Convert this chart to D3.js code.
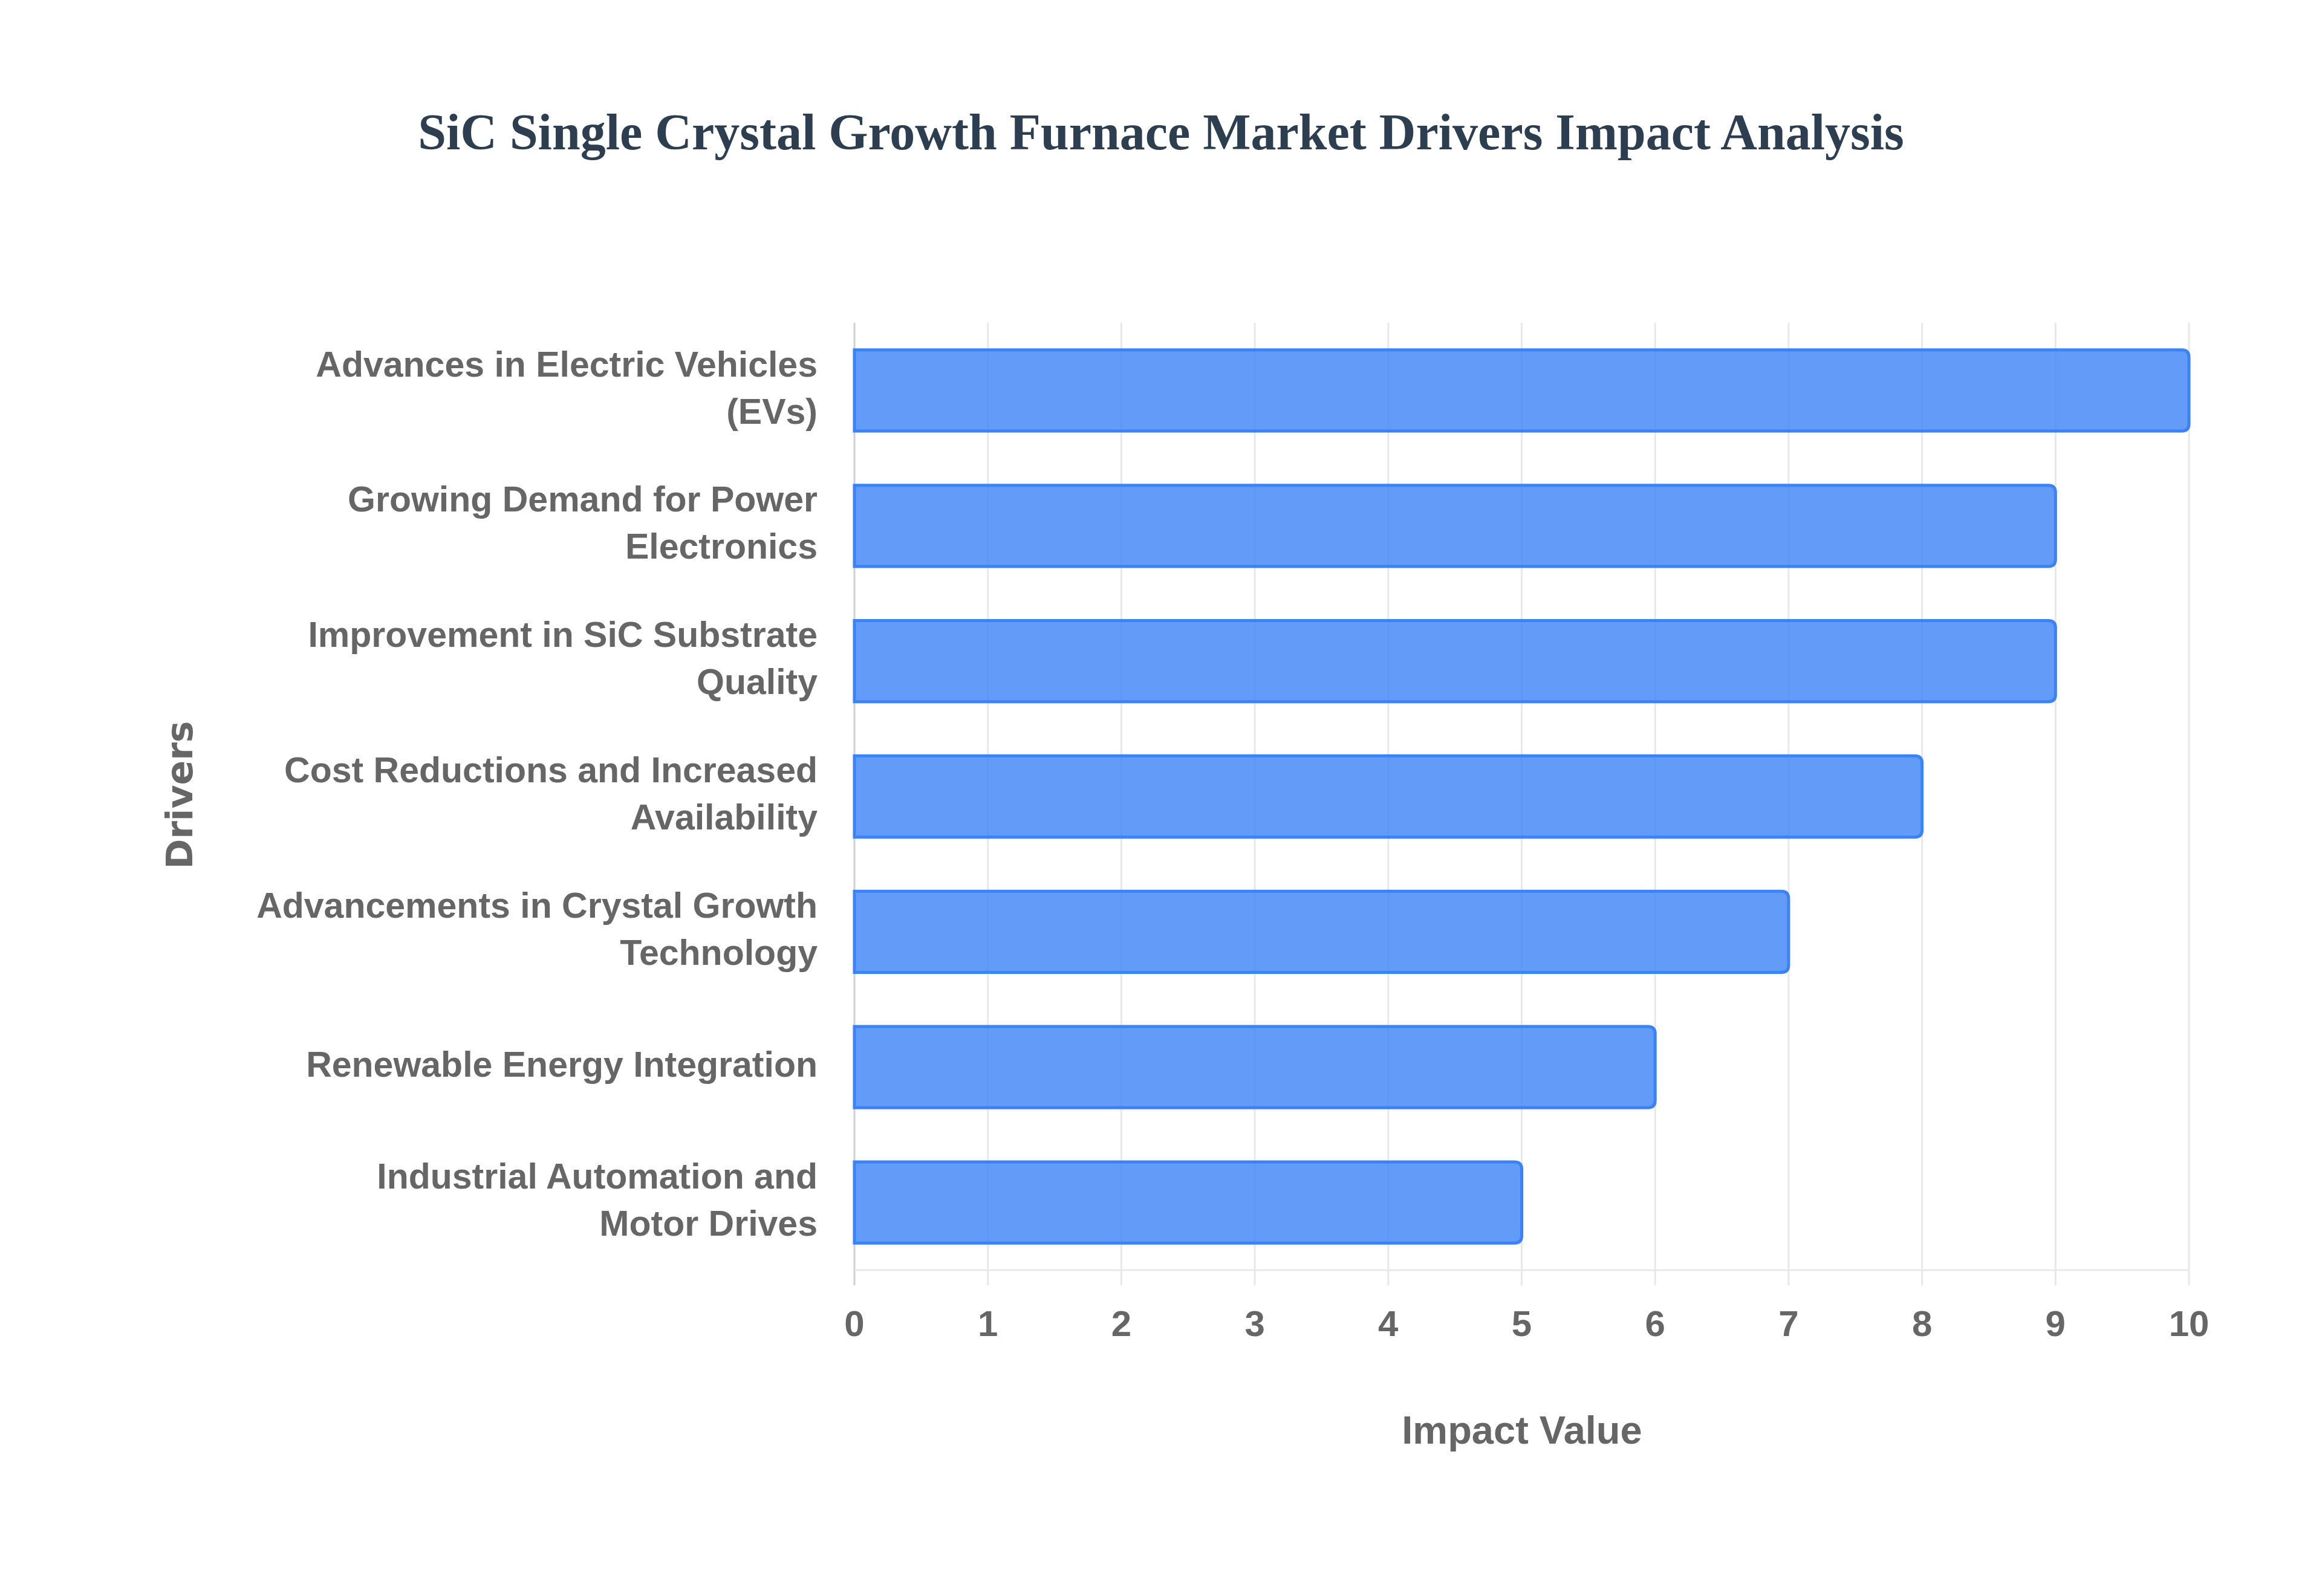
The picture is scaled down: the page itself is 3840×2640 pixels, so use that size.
<!DOCTYPE html>
<html><head><meta charset="utf-8">
<script src="https://cdn.jsdelivr.net/npm/d3@7"></script>
<style>body{margin:0;background:#fff}</style>
</head><body>
<svg id="c" width="3840" height="2640"></svg>
<script>
const categories = [
  ["Advances in Electric Vehicles","(EVs)"],
  ["Growing Demand for Power","Electronics"],
  ["Improvement in SiC Substrate","Quality"],
  ["Cost Reductions and Increased","Availability"],
  ["Advancements in Crystal Growth","Technology"],
  ["Renewable Energy Integration"],
  ["Industrial Automation and","Motor Drives"]
];
const values = [10, 9, 9, 8, 7, 6, 5];
const xTicks = [0,1,2,3,4,5,6,7,8,9,10];

const svg = d3.select("#c");
const L = 1413, R = 3620, T = 534, B = 2101;
const x = d3.scaleLinear().domain([0,10]).range([L,R]);
const y = d3.scaleBand().domain(d3.range(categories.length)).range([T,B]).paddingInner(0.4).paddingOuter(0.2);

svg.append("text").attr("x",1920).attr("y",228).attr("text-anchor","middle")
  .attr("dominant-baseline","middle")
  .style("font-family","'Liberation Serif','Times New Roman',serif").style("font-weight","bold")
  .style("font-size","84px").style("fill","#2c3e50")
  .text("SiC Single Crystal Growth Furnace Market Drivers Impact Analysis");

// grid
svg.append("g").selectAll("line").data(xTicks).join("line")
  .attr("x1",d=>x(d)).attr("x2",d=>x(d)).attr("y1",T).attr("y2",B+25)
  .attr("stroke",d=>d===0?"#d0d0d0":"#e8e8e8").attr("stroke-width",3);
svg.append("line").attr("x1",L).attr("x2",R).attr("y1",B).attr("y2",B).attr("stroke","#e8e8e8").attr("stroke-width",3);

// bars
const r = 12;
svg.append("g").selectAll("path").data(values).join("path")
  .attr("d",(d,i)=>{
    const x0=x(0), x1=x(d), y0=y(i), h=y.bandwidth();
    return `M${x0},${y0}H${x1-r}Q${x1},${y0} ${x1},${y0+r}V${y0+h-r}Q${x1},${y0+h} ${x1-r},${y0+h}H${x0}Z`;
  })
  .attr("fill","rgba(59,130,246,0.8)").attr("stroke","#3b82f6").attr("stroke-width",5);

// y labels
const lab = svg.append("g").style("font-family","'Liberation Sans',Arial,sans-serif")
  .style("font-weight","bold").style("font-size","59px").style("fill","#666");
categories.forEach((lines,i)=>{
  const cy = y(i)+y.bandwidth()/2, lh = 78;
  const t = lab.append("text").attr("text-anchor","end").attr("x",1352);
  lines.forEach((s,j)=>{
    t.append("tspan").attr("x",1352).attr("y",cy+(j-(lines.length-1)/2)*lh)
      .attr("dominant-baseline","middle").text(s);
  });
});

// x tick labels
svg.append("g").selectAll("text").data(xTicks).join("text")
  .attr("x",d=>x(d)).attr("y",2194).attr("text-anchor","middle").attr("dominant-baseline","middle")
  .style("font-family","'Liberation Sans',Arial,sans-serif").style("font-weight","bold")
  .style("font-size","60px").style("fill","#666").text(d=>d);

svg.append("text").attr("x",2517).attr("y",2371).attr("text-anchor","middle").attr("dominant-baseline","middle")
  .style("font-family","'Liberation Sans',Arial,sans-serif").style("font-weight","bold")
  .style("font-size","65px").style("fill","#666").text("Impact Value");
svg.append("text").attr("transform","translate(301,1315) rotate(-90)").attr("text-anchor","middle")
  .attr("dominant-baseline","middle")
  .style("font-family","'DejaVu Sans',Verdana,sans-serif").style("font-weight","bold")
  .style("font-size","60px").style("fill","#666").text("Drivers");
</script>
</body></html>
